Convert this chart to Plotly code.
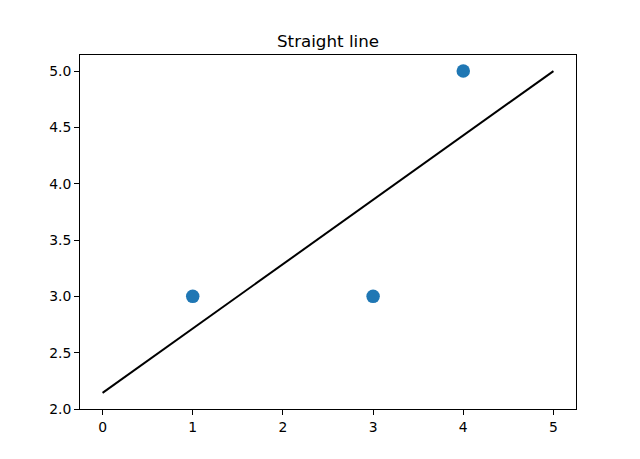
import plotly.graph_objects as go

pts_x = [1, 3, 4]
pts_y = [3, 3, 5]
line_x = [0, 5]
line_y = [2.142857, 5.0]
y_ticks = [2.0, 2.5, 3.0, 3.5, 4.0, 4.5, 5.0]
x_ticks = [0, 1, 2, 3, 4, 5]

fig = go.Figure()
fig.add_trace(go.Scatter(x=line_x, y=line_y, mode="lines",
                         line=dict(color="black", width=2), showlegend=False))
fig.add_trace(go.Scatter(x=pts_x, y=pts_y, mode="markers",
                         marker=dict(color="#1f77b4", size=13.5, line=dict(width=0)),
                         showlegend=False))

axis_common = dict(showline=True, linecolor="black", linewidth=1, mirror=True,
                   ticks="outside", ticklen=5, tickwidth=1, tickcolor="black",
                   showgrid=False, zeroline=False,
                   tickfont=dict(family="DejaVu Sans", size=13.9, color="black"))

fig.update_layout(
    width=640, height=459,
    margin=dict(l=80, r=64, t=55, b=50),
    paper_bgcolor="white", plot_bgcolor="white",
    title=dict(text="Straight line", x=0.5, xref="paper", xanchor="center",
               y=1 - 41 / 459, yref="container", yanchor="middle",
               font=dict(family="DejaVu Sans", size=16.7, color="black")),
    xaxis=dict(range=[-0.25, 5.25], tickvals=x_ticks, **axis_common),
    yaxis=dict(range=[2.0, 5.142857], tickvals=y_ticks, tickformat=".1f", **axis_common),
)

fig.write_html("out.html", config={"displayModeBar": False},
               post_script="document.body.style.margin='0';document.body.style.overflow='hidden';")
